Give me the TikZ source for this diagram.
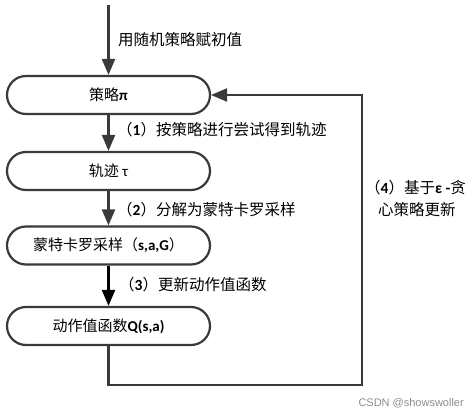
\documentclass[tikz,border=0pt]{standalone}
\usepackage{fontspec}
\setmainfont{Noto Sans CJK SC}
\newfontfamily\lat{Carlito}
\newfontfamily\wmfont{Liberation Sans}
\usetikzlibrary{shapes.misc,arrows.meta}
\definecolor{lc}{RGB}{58,58,58}
\newcommand{\B}[1]{{\lat\bfseries #1}}
\begin{document}
\begin{tikzpicture}[x=1pt,y=-1pt,
  box/.style={rounded rectangle, draw=lc, line width=2.2pt, minimum width=203pt, minimum height=38pt, inner sep=0pt, font=\fontsize{15}{18}\selectfont},
  lab/.style={anchor=west, inner sep=0pt, font=\fontsize{15.5}{21}\selectfont},
  arr/.style={draw=lc, line width=2.2pt, -{Triangle[length=16pt,width=13pt]}},
  arrb/.style={draw=black, line width=2.4pt, -{Triangle[length=16pt,width=13pt]}}]
\useasboundingbox (0,0) rectangle (474,414);
\node[box] (b1) at (108.5,95) {策略\B{π}};
\node[box] (b2) at (108.5,171) {轨迹 {\lat τ}};
\node[box] (b3) at (108.5,245.5) {蒙特卡罗采样（\B{s,a,G}）};
\node[box] (b4) at (108.5,326) {动作值函数\B{Q(s,a)}};
\coordinate (top) at (108.5,5);
\coordinate (c1) at (108.5,385);
\coordinate (c2) at (362,385);
\coordinate (c3) at (362,95);
\draw[arr] (top) -- (b1.north);
\draw[arr] (b1.south) -- (b2.north);
\draw[arr] (b2.south) -- (b3.north);
\draw[arrb] (b3.south) -- (b4.north);
\draw[arr] (b4.south) -- (c1) -- (c2) -- (c3) -- (b1.east);
\node[lab] (l0) at (118,40) {用随机策略赋初值};
\node[lab] (l1) at (117,130) {（\B{1}）按策略进行尝试得到轨迹};
\node[lab] (l2) at (117,210) {（\B{2}）分解为蒙特卡罗采样};
\node[lab] (l3) at (119,285) {（\B{3}）更新动作值函数};
\node[lab] (l4a) at (365,188) {（\B{4}）基于\B{ε -}贪};
\node[lab] (l4b) at (378,210) {心策略更新};
\node[anchor=east, inner sep=0pt, text=black!45, font=\wmfont\fontsize{11}{13}\selectfont] (wm) at (464,403) {CSDN @showswoller};
\end{tikzpicture}
\end{document}
